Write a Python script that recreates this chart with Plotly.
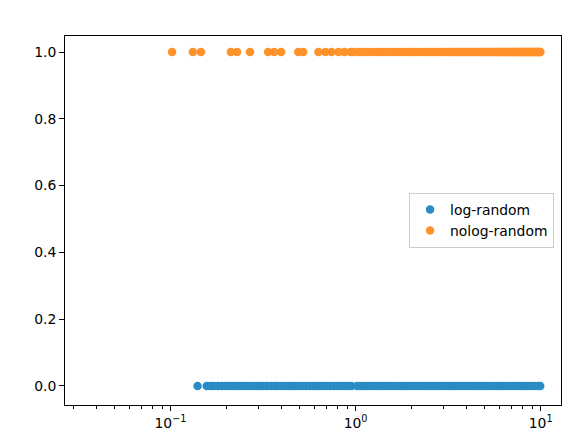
import plotly.graph_objects as go

# log-spaced random values
log_random = [
    0.14, 0.157, 0.165, 0.172, 0.18, 0.19, 0.198, 0.207, 0.216, 0.226, 0.236,
    0.245, 0.256, 0.268, 0.279, 0.292, 0.305, 0.318, 0.333, 0.35, 0.365, 0.38,
    0.398, 0.415, 0.435, 0.452, 0.472, 0.495, 0.515, 0.54, 0.565, 0.59, 0.615,
    0.64, 0.67, 0.70, 0.73, 0.765, 0.80, 0.835, 0.87, 0.91, 0.95, 1.02, 1.06,
    1.1, 1.15, 1.2, 1.25, 1.3, 1.36, 1.42, 1.48, 1.55, 1.61, 1.68, 1.76, 1.83,
    1.91, 2.0, 2.08, 2.17, 2.27, 2.36, 2.47, 2.58, 2.69, 2.81, 2.93, 3.06, 3.19,
    3.33, 3.48, 3.63, 3.79, 3.95, 4.12, 4.3, 4.5, 4.7, 4.9, 5.1, 5.3, 5.55, 5.8,
    6.05, 6.3, 6.6, 6.9, 7.2, 7.5, 7.8, 8.15, 8.5, 8.9, 9.3, 9.7, 9.95,
]

# uniformly spread random values
nolog_random = [
    0.102, 0.132, 0.146, 0.212, 0.229, 0.269, 0.337, 0.363, 0.396, 0.49, 0.521,
    0.63, 0.687, 0.741, 0.809, 0.871, 0.94, 0.98, 1.04, 1.09, 1.15, 1.21, 1.28,
    1.33, 1.39, 1.46, 1.52, 1.6, 1.67, 1.73, 1.81, 1.88, 1.96, 2.03, 2.1, 2.19,
    2.27, 2.35, 2.44, 2.52, 2.6, 2.69, 2.78, 2.86, 2.95, 3.04, 3.12, 3.21, 3.3,
    3.39, 3.48, 3.57, 3.66, 3.75, 3.84, 3.93, 4.02, 4.11, 4.2, 4.3, 4.39, 4.48,
    4.57, 4.67, 4.76, 4.85, 4.95, 5.04, 5.13, 5.23, 5.32, 5.41, 5.51, 5.6, 5.7,
    5.79, 5.88, 5.98, 6.07, 6.17, 6.26, 6.36, 6.45, 6.55, 6.64, 6.74, 6.83,
    6.93, 7.02, 7.12, 7.21, 7.31, 7.4, 7.5, 7.6, 7.69, 7.79, 7.88, 7.98, 8.07,
    8.17, 8.26, 8.36, 8.46, 8.55, 8.65, 8.74, 8.84, 8.94, 9.03, 9.13, 9.22,
    9.32, 9.42, 9.51, 9.61, 9.7, 9.8, 9.9, 9.97,
]

major_ticks = [0.1, 1, 10]
major_labels = ["10<sup>\u22121</sup>", "10<sup>0</sup>", "10<sup>1</sup>"]
minor_ticks = [0.03, 0.04, 0.05, 0.06, 0.07, 0.08, 0.09,
               0.2, 0.3, 0.4, 0.5, 0.6, 0.7, 0.8, 0.9,
               2, 3, 4, 5, 6, 7, 8, 9]

fig = go.Figure()
fig.add_trace(go.Scatter(
    x=log_random, y=[0] * len(log_random), mode="markers", name="log-random",
    marker=dict(color="#2b8bc4", size=8.5, line=dict(width=0)),
))
fig.add_trace(go.Scatter(
    x=nolog_random, y=[1] * len(nolog_random), mode="markers", name="nolog-random",
    marker=dict(color="#ff922a", size=8.5, line=dict(width=0)),
))

# page body has an 8px margin, so the figure is drawn 8px smaller and offset
fig.update_layout(
    width=570, height=435,
    margin=dict(l=57, r=17, t=28, b=38),
    plot_bgcolor="white", paper_bgcolor="white",
    font=dict(family="DejaVu Sans", size=13.9, color="black"),
    legend=dict(
        x=0.986, y=0.5, xanchor="right", yanchor="middle",
        bgcolor="rgba(255,255,255,0.8)", bordercolor="#cccccc", borderwidth=1,
        font=dict(size=13.9),
    ),
)
fig.update_xaxes(
    type="log", range=[-1.57, 1.11],
    tickmode="array", tickvals=major_ticks, ticktext=major_labels,
    ticks="outside", ticklen=5, tickwidth=1, tickcolor="black",
    minor=dict(tickmode="array", tickvals=minor_ticks, ticks="outside",
               ticklen=3, tickcolor="black", showgrid=False),
    showline=True, linecolor="black", linewidth=1, mirror=True,
    showgrid=False, zeroline=False,
)
fig.update_yaxes(
    range=[-0.057, 1.048], tickvals=[0, 0.2, 0.4, 0.6, 0.8, 1.0],
    tickformat=".1f",
    ticks="outside", ticklen=5, tickwidth=1, tickcolor="black",
    showline=True, linecolor="black", linewidth=1, mirror=True,
    showgrid=False, zeroline=False,
)

fig.write_html("out.html")
